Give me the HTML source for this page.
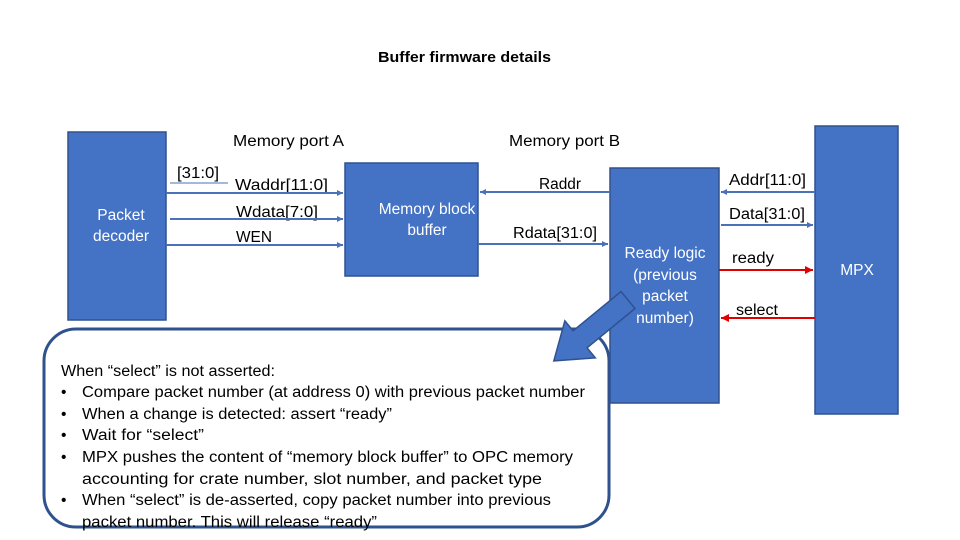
<!DOCTYPE html>
<html><head><meta charset="utf-8"><style>
html,body{margin:0;padding:0;background:#fff;}
svg{display:block;font-family:"Liberation Sans",sans-serif;}
</style></head><body>
<svg width="960" height="540" viewBox="0 0 960 540" xmlns="http://www.w3.org/2000/svg">
<defs>
<marker id="ab" markerWidth="8" markerHeight="8" refX="6" refY="3" orient="auto" markerUnits="userSpaceOnUse"><path d="M0,0 L6,3 L0,6 z" fill="#4a72b8"/></marker>
<marker id="ar" markerWidth="10" markerHeight="10" refX="8" refY="4" orient="auto" markerUnits="userSpaceOnUse"><path d="M0,0 L8,4 L0,8 z" fill="#e00000"/></marker>
</defs>
<text x="378" y="62" font-size="14.5" font-weight="bold" textLength="173" lengthAdjust="spacingAndGlyphs">Buffer firmware details</text>

<g fill="#4472C4" stroke="#2F528F" stroke-width="1.5">
<rect x="68" y="132" width="98" height="188"/>
<rect x="345" y="163" width="133" height="113"/>
<rect x="610" y="168" width="109" height="235"/>
<rect x="815" y="126" width="83" height="288"/>
</g>

<g font-size="15.5" fill="#000" lengthAdjust="spacingAndGlyphs">
<text x="233" y="146" textLength="111" lengthAdjust="spacingAndGlyphs">Memory port A</text>
<text x="509" y="146" textLength="111" lengthAdjust="spacingAndGlyphs">Memory port B</text>
<text x="177" y="178" textLength="42" lengthAdjust="spacingAndGlyphs">[31:0]</text>
<text x="235" y="190" textLength="93" lengthAdjust="spacingAndGlyphs">Waddr[11:0]</text>
<text x="236" y="217" textLength="82" lengthAdjust="spacingAndGlyphs">Wdata[7:0]</text>
<text x="236" y="242" textLength="36" lengthAdjust="spacingAndGlyphs">WEN</text>
<text x="539" y="189" textLength="42" lengthAdjust="spacingAndGlyphs">Raddr</text>
<text x="513" y="238" textLength="84" lengthAdjust="spacingAndGlyphs">Rdata[31:0]</text>
<text x="729" y="185" textLength="77" lengthAdjust="spacingAndGlyphs">Addr[11:0]</text>
<text x="729" y="219" textLength="76" lengthAdjust="spacingAndGlyphs">Data[31:0]</text>
<text x="732" y="263" textLength="42" lengthAdjust="spacingAndGlyphs">ready</text>
<text x="736" y="315" textLength="42" lengthAdjust="spacingAndGlyphs">select</text>
</g>
<g font-size="15.5" fill="#fff" text-anchor="middle">
<text x="121" y="220">Packet</text>
<text x="121" y="241">decoder</text>
<text x="427" y="214">Memory block</text>
<text x="427" y="235">buffer</text>
<text x="665" y="258">Ready logic</text>
<text x="665" y="280">(previous</text>
<text x="665" y="301">packet</text>
<text x="665" y="323">number)</text>
<text x="857" y="275">MPX</text>
</g>

<g stroke="#4a72b8" stroke-width="2" fill="none">
<line x1="170" y1="183" x2="228" y2="183" stroke-width="1"/>
<line x1="166" y1="193" x2="343" y2="193" marker-end="url(#ab)"/>
<line x1="170" y1="219" x2="343" y2="219" marker-end="url(#ab)"/>
<line x1="166" y1="245" x2="343" y2="245" marker-end="url(#ab)"/>
<line x1="610" y1="192" x2="480" y2="192" marker-end="url(#ab)"/>
<line x1="478" y1="244" x2="608" y2="244" marker-end="url(#ab)"/>
<line x1="815" y1="192" x2="721" y2="192" marker-end="url(#ab)"/>
<line x1="721" y1="225" x2="813" y2="225" marker-end="url(#ab)"/>
</g>
<g stroke="#e00000" stroke-width="2" fill="none">
<line x1="719" y1="270" x2="813" y2="270" marker-end="url(#ar)"/>
<line x1="815" y1="318" x2="721" y2="318" marker-end="url(#ar)"/>
</g>

<rect x="44" y="329" width="565" height="198" rx="32" ry="32" fill="#fff" stroke="#2F528F" stroke-width="3"/>

<g transform="translate(628,300) rotate(140.6)">
<polygon points="0,-11 62,-11 62,-24 96,0 62,24 62,11 0,11" fill="#4472C4" stroke="#2F528F" stroke-width="1.5"/>
</g>

<g font-size="15.5" fill="#000">
<text x="61" y="376" textLength="214" lengthAdjust="spacingAndGlyphs">When “select” is not asserted:</text>
<text x="61" y="397">•</text><text x="82" y="397" textLength="503" lengthAdjust="spacingAndGlyphs">Compare packet number (at address 0) with previous packet number</text>
<text x="61" y="419">•</text><text x="82" y="419" textLength="310" lengthAdjust="spacingAndGlyphs">When a change is detected: assert “ready”</text>
<text x="61" y="440">•</text><text x="82" y="440" textLength="122" lengthAdjust="spacingAndGlyphs">Wait for “select”</text>
<text x="61" y="462">•</text><text x="82" y="462" textLength="491" lengthAdjust="spacingAndGlyphs">MPX pushes the content of “memory block buffer” to OPC memory</text>
<text x="82" y="484" textLength="460" lengthAdjust="spacingAndGlyphs">accounting for crate number, slot number, and packet type</text>
<text x="61" y="505">•</text><text x="82" y="505" textLength="469" lengthAdjust="spacingAndGlyphs">When “select” is de-asserted, copy packet number into previous</text>
<text x="82" y="527" textLength="295" lengthAdjust="spacingAndGlyphs">packet number. This will release “ready”</text>
</g>
</svg>
</body></html>
